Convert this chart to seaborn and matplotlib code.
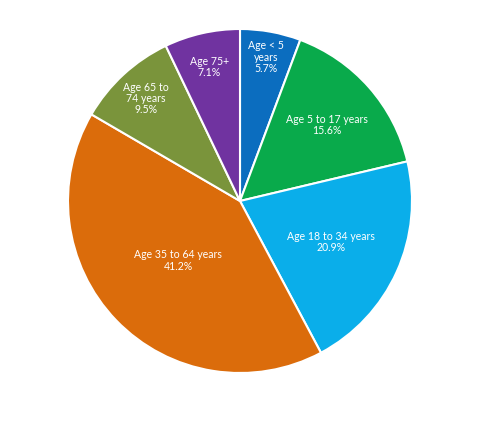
import numpy as np
import matplotlib
matplotlib.use("Agg")
import matplotlib.pyplot as plt
import seaborn as sns

label_text = ["Age < 5\nyears", "Age 5 to 17 years", "Age 18 to 34 years",
              "Age 35 to 64 years", "Age 65 to\n74 years", "Age 75+"]
shares = [5.7, 15.6, 20.9, 41.2, 9.5, 7.1]
colors = ["#0b6dbf", "#09aa4b", "#0aaeea", "#db6c0b", "#7a943b", "#7033a0"]

# how far out each label sits (fraction of radius)
label_dist = [0.85, 0.67, 0.58, 0.50, 0.81, 0.80]

sns.set_theme(style="white")
plt.rcParams["font.family"] = ["Lato", "DejaVu Sans"]

fig = plt.figure(figsize=(4.87, 4.25), dpi=100)
ax = fig.add_axes([68 / 487, 52 / 425, 344 / 487, 344 / 425])

wedges, _ = ax.pie(shares, colors=sns.color_palette(colors), startangle=90,
                   counterclock=False, radius=1,
                   wedgeprops=dict(edgecolor="white", linewidth=1.5))

for w, txt, val, d in zip(wedges, label_text, shares, label_dist):
    ang = np.deg2rad((w.theta1 + w.theta2) / 2)
    ax.text(d * np.cos(ang), d * np.sin(ang), f"{txt}\n{val:.1f}%",
            ha="center", va="center", color="white", fontsize=7.6,
            linespacing=1.05)

ax.set_xlim(-1, 1)
ax.set_ylim(-1, 1)
ax.set_aspect("equal")
ax.axis("off")

fig.savefig("out.png", dpi=100)
